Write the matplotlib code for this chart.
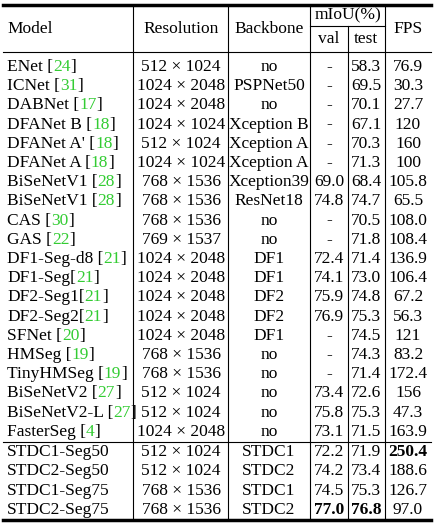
import matplotlib.pyplot as plt

plt.rcParams['font.family'] = ['Liberation Serif', 'DejaVu Serif']

# Table data
models = ['ENet [', 'ICNet [', 'DABNet [', 'DFANet B [', "DFANet A' [", 'DFANet A [',
          'BiSeNetV1 [', 'BiSeNetV1 [', 'CAS [', 'GAS [', 'DF1-Seg-d8 [', 'DF1-Seg[',
          'DF2-Seg1[', 'DF2-Seg2[', 'SFNet [', 'HMSeg [', 'TinyHMSeg [', 'BiSeNetV2 [',
          'BiSeNetV2-L [', 'FasterSeg [',
          'STDC1-Seg50', 'STDC2-Seg50', 'STDC1-Seg75', 'STDC2-Seg75']
refs = ['24', '31', '17', '18', '18', '18', '28', '28', '30', '22', '21', '21',
        '21', '21', '20', '19', '19', '27', '27', '4', '', '', '', '']
resolution = ['512 × 1024', '1024 × 2048', '1024 × 2048', '1024 × 1024', '512 × 1024',
              '1024 × 1024', '768 × 1536', '768 × 1536', '768 × 1536', '769 × 1537',
              '1024 × 2048', '1024 × 2048', '1024 × 2048', '1024 × 2048', '1024 × 2048',
              '768 × 1536', '768 × 1536', '512 × 1024', '512 × 1024', '1024 × 2048',
              '512 × 1024', '512 × 1024', '768 × 1536', '768 × 1536']
backbone = ['no', 'PSPNet50', 'no', 'Xception B', 'Xception A', 'Xception A',
            'Xception39', 'ResNet18', 'no', 'no', 'DF1', 'DF1', 'DF2', 'DF2', 'DF1',
            'no', 'no', 'no', 'no', 'no', 'STDC1', 'STDC2', 'STDC1', 'STDC2']
miou_val = ['-', '-', '-', '-', '-', '-', '69.0', '74.8', '-', '-', '72.4', '74.1',
            '75.9', '76.9', '-', '-', '-', '73.4', '75.8', '73.1',
            '72.2', '74.2', '74.5', '77.0']
miou_test = ['58.3', '69.5', '70.1', '67.1', '70.3', '71.3', '68.4', '74.7', '70.5',
             '71.8', '71.4', '73.0', '74.8', '75.3', '74.5', '74.3', '71.4', '72.6',
             '75.3', '71.5', '71.9', '73.4', '75.3', '76.8']
fps = ['76.9', '30.3', '27.7', '120', '160', '100', '105.8', '65.5', '108.0', '108.4',
       '136.9', '106.4', '67.2', '56.3', '121', '83.2', '172.4', '156', '47.3', '163.9',
       '250.4', '188.6', '126.7', '97.0']
bold = {(20, 'fps'), (23, 'val'), (23, 'test')}

W, H = 434, 526
fig = plt.figure(figsize=(W / 100, H / 100), dpi=100)
ax = fig.add_axes([0, 0, 1, 1])
ax.set_xlim(0, W)
ax.set_ylim(H, 0)
ax.axis('off')

fs = 12.5
green = '#33cc33'
xs = {'model': 7, 'res': 181, 'bb': 269, 'val': 329, 'test': 366, 'fps': 408}
vlines = [133, 228, 310, 385]

# header
ax.text(xs['model'], 29, 'Model', fontsize=fs, va='center')
ax.text(xs['res'], 29, 'Resolution', fontsize=fs, va='center', ha='center')
ax.text(xs['bb'], 29, 'Backbone', fontsize=fs, va='center', ha='center')
ax.text(348, 15, 'mIoU(%)', fontsize=fs, va='center', ha='center')
ax.text(xs['val'], 39, 'val', fontsize=fs, va='center', ha='center')
ax.text(xs['test'], 39, 'test', fontsize=fs, va='center', ha='center')
ax.text(xs['fps'], 29, 'FPS', fontsize=fs, va='center', ha='center')

fig.canvas.draw()
renderer = fig.canvas.get_renderer()
inv = ax.transData.inverted()

def row_y(i):
    return 67 + i * 19.2 if i < 20 else 452 + (i - 20) * 19.3

for i in range(len(models)):
    y = row_y(i)
    t = ax.text(xs['model'], y, models[i], fontsize=fs, va='center')
    if refs[i]:
        bb = t.get_window_extent(renderer)
        x1 = inv.transform((bb.x1, 0))[0]
        t2 = ax.text(x1, y, refs[i], fontsize=fs, va='center', color=green)
        bb2 = t2.get_window_extent(renderer)
        x2 = inv.transform((bb2.x1, 0))[0]
        ax.text(x2, y, ']', fontsize=fs, va='center')
    ax.text(xs['res'], y, resolution[i], fontsize=fs, va='center', ha='center')
    ax.text(xs['bb'], y, backbone[i], fontsize=fs, va='center', ha='center')
    for key, vals in (('val', miou_val), ('test', miou_test), ('fps', fps)):
        w = 'bold' if (i, key) in bold else 'normal'
        ax.text(xs[key], y, vals[i], fontsize=fs, va='center', ha='center', fontweight=w)

# rules
ax.plot([3, 431], [5, 5], color='black', lw=2.5)
ax.plot([3, 431], [520, 520], color='black', lw=2.5)
ax.plot([310, 385], [26, 26], color='black', lw=0.8)
ax.plot([3, 431], [52, 52], color='black', lw=0.8)
ax.plot([3, 431], [442, 442], color='black', lw=0.8)
for x in vlines:
    ax.plot([x, x], [5, 520], color='black', lw=0.8)
ax.plot([348, 348], [26, 520], color='black', lw=0.8)

fig.savefig('out.png', dpi=100)
